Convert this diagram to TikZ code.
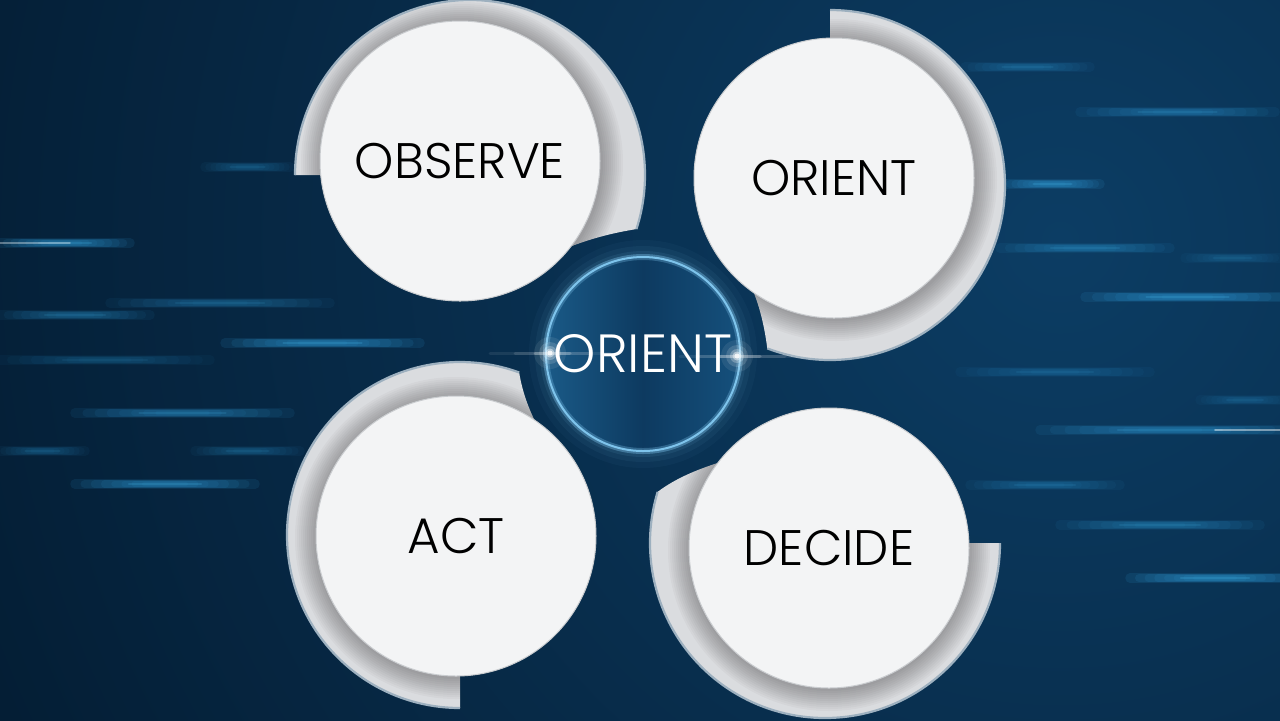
\documentclass[tikz,border=0pt]{standalone}
\usepackage{fontspec}
\newfontfamily\lab{Poppins Light}
\definecolor{bgdark}{HTML}{021629}
\definecolor{bglight}{HTML}{0C3D64}
\definecolor{strkblue}{HTML}{2A8CC4}
\definecolor{strkcyan}{HTML}{45B4E6}
\definecolor{backgray}{HTML}{DADCDF}
\definecolor{rimcol}{HTML}{9DB0BF}
\definecolor{disk}{HTML}{F3F4F5}
\definecolor{diskedge}{HTML}{C9CCCF}
\definecolor{ringcol}{HTML}{7EC4EC}
\definecolor{coreleft}{HTML}{1A5A87}
\definecolor{coremid}{HTML}{0D3A60}
\definecolor{coreright}{HTML}{15507C}

% horizontal light streak: x1, x2, y, strength
\newcommand\strk[4]{%
  \pgfmathsetmacro\opS{min(1,0.1*#4)}%
  \foreach \i in {0,...,7}{%
    \pgfmathsetmacro\stA{#1+0.055*\i*(#2-#1)}%
    \pgfmathsetmacro\stB{#2-0.055*\i*(#2-#1)}%
    \pgfmathsetmacro\lw{0.95-0.07*\i}%
    \draw[strkblue, line width=\lw mm, opacity=\opS, line cap=round] (\stA,#3) -- (\stB,#3);
  }
  \pgfmathsetmacro\stC{#1+0.3*(#2-#1)}%
  \pgfmathsetmacro\stD{#2-0.3*(#2-#1)}%
  \pgfmathsetmacro\opC{min(1,0.15*#4)}%
  \draw[strkcyan, line width=0.25mm, opacity=\opC, line cap=round] (\stC,#3) -- (\stD,#3);
}

% backing (swoosh) with inner shadow of the white disk
\newcommand\backing[3]{%
  \fill[backgray] #1;
  \begin{scope}
    \clip #1;
    \foreach \k in {2,4,...,22}{%
      \pgfmathsetmacro\rr{139+\k}%
      \fill[black, opacity=0.028] #2 circle [radius=\rr];
    }
  \end{scope}
  \draw[rimcol, line width=0.22mm] #3;
}

\begin{document}
\begin{tikzpicture}[x=0.1mm, y=-0.1mm,
  wdisk/.style={circle, minimum size=28mm, inner sep=0pt, fill=disk, draw=diskedge,
    line width=0.1mm, text=black, font=\lab\fontsize{14.2pt}{16pt}\selectfont},
  coredisk/.style={circle, minimum size=19.4mm, inner sep=0pt,
    left color=coreleft, right color=coreright, middle color=coremid,
    text=white, font=\lab\fontsize{15.3pt}{17pt}\selectfont}]
\useasboundingbox (0,0) rectangle (1280,720);

% background
\fill[bgdark] (0,0) rectangle (1280,720);
\begin{scope}
  \clip (0,0) rectangle (1280,720);
  \shade[inner color=bglight, outer color=bgdark] (1060,240) circle (1450);
\end{scope}

% streaks left
\strk{205}{290}{167}{0.6}
\strk{0}{130}{243}{1.3}
\draw[white, opacity=0.35, line width=0.15mm, line cap=round] (0,243) -- (70,243);
\strk{110}{330}{303}{0.7}
\strk{0}{150}{315}{0.8}
\strk{225}{420}{343}{1.4}
\strk{0}{210}{360}{0.5}
\strk{75}{290}{413}{1.0}
\strk{0}{85}{451}{0.6}
\strk{195}{300}{451}{0.6}
\strk{75}{255}{484}{1.3}
% streaks right
\strk{965}{1090}{67}{0.7}
\strk{1080}{1275}{112}{0.9}
\strk{1005}{1100}{184}{1.4}
\strk{1000}{1170}{248}{0.9}
\strk{1185}{1280}{258}{0.5}
\strk{1085}{1290}{297}{1.4}
\strk{960}{1150}{372}{0.6}
\strk{1200}{1290}{400}{0.5}
\strk{1040}{1300}{430}{1.1}
\draw[white, opacity=0.45, line width=0.2mm, line cap=round] (1215,430) -- (1280,430);
\strk{970}{1120}{485}{0.7}
\strk{1060}{1260}{525}{0.9}
\strk{1130}{1300}{578}{1.5}

% backings
\backing{(295,175) arc[start angle=180,end angle=378,radius=175] .. controls (612,233) and (588,239) .. (562,250) -- (470,175) -- cycle}
        {(462,163)}{(295,175) arc[start angle=180,end angle=378,radius=175]}
\backing{(830,10) arc[start angle=270,end angle=471,radius=175] .. controls (764,323) and (758,299) .. (748,280) -- (830,185) -- cycle}
        {(836,180)}{(830,10) arc[start angle=270,end angle=471,radius=175]}
\backing{(1000,543) arc[start angle=0,end angle=197,radius=175] .. controls (676,478) and (698,469) .. (724,461) -- (825,543) -- cycle}
        {(829,550)}{(1000,543) arc[start angle=0,end angle=197,radius=175]}
\backing{(460,708) arc[start angle=90,end angle=290,radius=173] .. controls (522,390) and (528,409) .. (540,431) -- (460,535) -- cycle}
        {(456,538)}{(460,708) arc[start angle=90,end angle=290,radius=173]}

% white disks
\node[wdisk] (observe) at (460,161) {OBSERVE};
\node[wdisk] (orient) at (834,178) {ORIENT};
\node[wdisk] (act) at (456,536) {ACT};
\node[wdisk] (decide) at (829,548) {DECIDE};

% centre halo
\foreach \r/\o in {114/0.04,108/0.06,103/0.09,100/0.12}
  \fill[ringcol, opacity=\o] (643,354) circle (\r);
\node[coredisk] (core) at (643,354) {ORIENT};
\draw[ringcol, opacity=0.3, line width=0.6mm] (core.center) circle (97);
\draw[ringcol, line width=0.2mm] (core.center) circle (97);

% flares
\foreach \x/\y in {550/353, 737/356}{
  \foreach \r/\o in {16/0.08, 11/0.14, 7/0.25, 4.5/0.45, 2.5/0.8}
    \fill[white, opacity=\o] (\x,\y) circle (\r);
}
\foreach \a/\b/\o in {490/610/0.08, 515/590/0.12, 535/570/0.2}
  \draw[white, opacity=\o, line width=0.3mm, line cap=round] (\a,353) -- (\b,353);
\foreach \a/\b/\o in {680/810/0.08, 700/785/0.12, 718/760/0.2}
  \draw[white, opacity=\o, line width=0.3mm, line cap=round] (\a,356) -- (\b,356);
\end{tikzpicture}
\end{document}
